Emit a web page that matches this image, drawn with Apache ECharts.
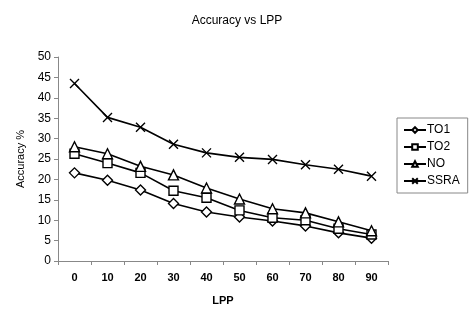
<!DOCTYPE html>
<html>
<head>
<meta charset="utf-8">
<script src="https://cdn.jsdelivr.net/npm/echarts@6/dist/echarts.min.js"></script>
<style>
  html, body { margin: 0; padding: 0; background: #fff; }
  #chart { width: 474px; height: 325px; }
</style>
</head>
<body>
<div id="chart"></div>
<script>
// LPP values on the x axis
const lpp = ['0', '10', '20', '30', '40', '50', '60', '70', '80', '90'];

// Accuracy (%) per method
const to1  = [21.6, 19.8, 17.4, 14.1, 12.0, 10.8, 9.8, 8.6, 6.9, 5.6];
const to2  = [26.3, 24.0, 21.6, 17.2, 15.5, 12.4, 10.6, 10.0, 7.9, 6.5];
const no   = [28.0, 26.3, 23.2, 21.1, 17.9, 15.2, 12.8, 11.8, 9.6, 7.4];
const ssra = [43.5, 35.2, 32.8, 28.6, 26.5, 25.4, 24.9, 23.6, 22.5, 20.8];

const font = 'Liberation Sans, Arial, sans-serif';
const crossPath = 'path://M0,0L10,10M10,0L0,10';

function makeSeries(name, data, symbol, size) {
  return {
    name: name,
    type: 'line',
    data: data,
    symbol: symbol,
    symbolSize: size,
    showAllSymbol: true,
    lineStyle: { color: '#000', width: 1.6 },
    itemStyle: { color: '#fff', borderColor: '#000', borderWidth: 1.4 },
    emphasis: { disabled: true },
    animation: false
  };
}

const chart = echarts.init(document.getElementById('chart'));
chart.setOption({
  backgroundColor: '#fff',
  title: {
    text: 'Accuracy vs LPP',
    left: 'center',
    top: 10,
    textStyle: { fontFamily: font, fontSize: 12, fontWeight: 'normal', color: '#000' }
  },
  legend: {
    orient: 'vertical',
    left: 397,
    top: 118,
    padding: [6, 8, 6, 6],
    itemGap: 5,
    itemWidth: 22,
    itemHeight: 7,
    borderColor: '#888',
    borderWidth: 1,
    textStyle: { fontFamily: font, fontSize: 12, color: '#000', padding: [0, 0, 0, -4] },
    data: ['TO1', 'TO2', 'NO', 'SSRA']
  },
  grid: { left: 58, right: 86, top: 57, bottom: 64 },
  xAxis: {
    type: 'category',
    data: lpp,
    name: 'LPP',
    nameLocation: 'middle',
    nameGap: 34,
    nameTextStyle: { fontFamily: font, fontSize: 11, fontWeight: 'bold', color: '#000' },
    axisLine: { lineStyle: { color: '#888', width: 1 } },
    axisTick: { show: true, length: 4, lineStyle: { color: '#888' } },
    axisLabel: { fontFamily: font, fontSize: 11, fontWeight: 'bold', color: '#000', margin: 11 },
    splitLine: { show: false }
  },
  yAxis: {
    type: 'value',
    min: 0,
    max: 50,
    interval: 5,
    name: 'Accuracy %',
    nameLocation: 'middle',
    nameGap: 27,
    nameTextStyle: { fontFamily: font, fontSize: 11, color: '#000' },
    axisLine: { show: true, lineStyle: { color: '#888', width: 1 } },
    axisTick: { show: true, length: 4, lineStyle: { color: '#888' } },
    axisLabel: { fontFamily: font, fontSize: 12, color: '#000', margin: 7 },
    splitLine: { show: false }
  },
  series: [
    makeSeries('TO1', to1, 'diamond', 10),
    makeSeries('TO2', to2, 'rect', 9),
    makeSeries('NO', no, 'triangle', 10),
    makeSeries('SSRA', ssra, crossPath, 9)
  ]
});
</script>
</body>
</html>
